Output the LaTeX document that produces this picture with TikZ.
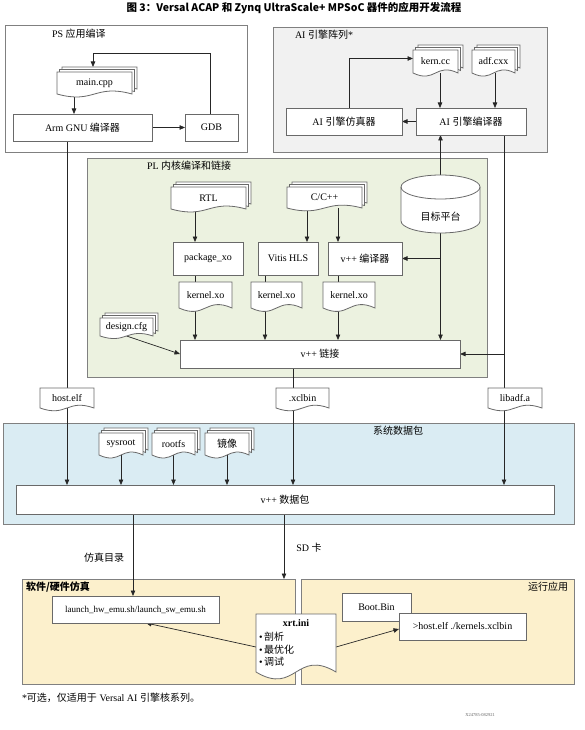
\documentclass[tikz,border=0pt]{standalone}
\usepackage{fontspec}
\setmainfont{Liberation Serif}
\newfontfamily\cjk{Noto Sans CJK SC}
\usetikzlibrary{arrows.meta,calc}
\newcommand\zh[1]{{\cjk #1}}
\definecolor{aigray}{RGB}{241,241,241}
\definecolor{plgreen}{RGB}{236,242,224}
\definecolor{sysblue}{RGB}{218,236,243}
\definecolor{emuyel}{RGB}{252,240,204}
\definecolor{contgray}{RGB}{128,128,128}
\definecolor{boxgray}{RGB}{105,105,105}
\pgfdeclarelayer{cont}
\pgfdeclarelayer{conn}
\pgfsetlayers{cont,conn,main}
\tikzset{
  cont/.style={draw=contgray, line width=0.8pt, inner sep=0pt, outer sep=0pt},
  box/.style={draw=boxgray, fill=white, line width=0.8pt, inner sep=0pt, outer sep=0pt, align=center},
  hid/.style={inner sep=0pt, outer sep=0pt, align=center},
  docline/.style={draw=boxgray, fill=white, line width=0.8pt},
  conline/.style={draw=black!85, line width=0.7pt},
  arr/.style={conline, -{Triangle[length=5.5pt,width=4.5pt]}},
  lbl/.style={inner sep=0pt, outer sep=0pt},
}
\newcommand\rectnode[7][]{\node[#1, minimum width={(#5-#3)*1pt}, minimum height={(#6-#4)*1pt}] (#2) at ({(#3+#5)/2},{(#4+#6)/2}) {#7};}
\newcommand\onedoc[5]{\filldraw[docline] (#1,#2) -- (#3,#2) -- (#3,#4) .. controls ({(#1+#3)/2},{#4-#5}) and ({(#1+#3)/2},{#4+#5}) .. (#1,#4) -- cycle;}
\newcommand\docnode[6]{%
  \pgfmathsetmacro\dk{0.38*(#5-#3)+2}%
  \onedoc{#2}{#3}{#4}{#5}{\dk}%
  \rectnode[hid]{#1}{#2}{#3}{#4}{#5}{#6}}
\newcommand\stacknode[6]{%
  \pgfmathsetmacro\dk{0.38*(#5-#3)+2}%
  \onedoc{#2+5}{#3-5}{#4+5}{#5-5}{\dk}%
  \onedoc{#2+2.5}{#3-2.5}{#4+2.5}{#5-2.5}{\dk}%
  \docnode{#1}{#2}{#3}{#4}{#5}{#6}}
\newcommand\bul{\textbullet\hspace{1.5pt}}
\begin{document}
\begin{tikzpicture}[x=1pt,y=-1pt,font=\fontsize{10}{12}\selectfont]
\useasboundingbox (0,0) rectangle (585,730);

\node[font=\cjk\bfseries\fontsize{10.5}{12}\selectfont] (title) at (294,8) {图 3：Versal ACAP 和 Zynq UltraScale+ MPSoC 器件的应用开发流程};

% containers
\begin{pgfonlayer}{cont}
\fill[white] (0,0) rectangle (585,730);
\rectnode[cont, fill=white]{ps}{5}{25}{247}{152}{}
\rectnode[cont, fill=aigray]{ai}{273}{27}{547}{152}{}
\rectnode[cont, fill=plgreen]{pl}{87}{158}{487}{377}{}
\rectnode[cont, fill=sysblue]{sys}{3}{423}{574}{524}{}
\rectnode[cont, fill=emuyel]{emu}{22}{579}{295}{684}{}
\rectnode[cont, fill=emuyel]{runbox}{301}{579}{574}{684}{}
\end{pgfonlayer}

\node[lbl, anchor=west] (pslbl) at (52,34) {PS \zh{应用编译}};
\node[lbl, anchor=west] (ailbl) at (295,35) {AI \zh{引擎阵列}*};
\node[lbl, anchor=west] (pllbl) at (147,166) {PL \zh{内核编译和链接}};
\node[lbl] (syslbl) at (398,431) {\zh{系统数据包}};
\node[lbl, anchor=west, font=\cjk\bfseries\fontsize{10}{12}\selectfont] (emulbl) at (26,587) {软件/硬件仿真};
\node[lbl, anchor=east] (runlbl) at (568,587) {\zh{运行应用}};

% PS
\stacknode{maincpp}{57}{72}{132}{94}{main.cpp}
\rectnode[box]{arm}{13}{114}{152}{141}{Arm GNU \zh{编译器}}
\rectnode[box]{gdb}{185}{114}{238}{141}{GDB}

% AI
\stacknode{kerncc}{413}{50}{458}{73}{kern.cc}
\stacknode{adfcxx}{472}{50}{515}{73}{adf.cxx}
\rectnode[box]{aisim}{286}{108}{402}{135}{AI \zh{引擎仿真器}}
\rectnode[box]{aicomp}{416}{108}{526}{135}{AI \zh{引擎编译器}}

% PL
\stacknode{rtl}{171}{187}{246}{209}{RTL}
\stacknode{cpp}{287}{187}{362}{208}{C/C++}
\filldraw[docline] (401,187) -- (401,221) arc[start angle=180, end angle=360, x radius=39.5pt, y radius=12pt] -- (480,187) arc[start angle=0, end angle=180, x radius=39.5pt, y radius=12pt] -- cycle;
\draw[docline, fill=none] (401,187) arc[start angle=180, end angle=360, x radius=39.5pt, y radius=12pt];
\rectnode[hid]{tgt}{401}{175}{480}{233}{}
\node[lbl] (tgtlbl) at (440.5,217) {\zh{目标平台}};
\rectnode[box]{pkg}{173}{242}{243}{275}{package\_xo}
\rectnode[box]{hls}{258}{242}{318}{275}{Vitis HLS}
\rectnode[box]{vcomp}{328}{242}{402}{275}{v++ \zh{编译器}}
\docnode{kx1}{179}{282}{232}{308}{kernel.xo}
\docnode{kx2}{251}{282}{302}{308}{kernel.xo}
\docnode{kx3}{323}{282}{375}{308}{kernel.xo}
\stacknode{designcfg}{100}{318}{153}{336}{design.cfg}
\rectnode[box]{link}{180}{340}{460}{368}{v++ \zh{链接}}

% outputs
\docnode{hostelf}{40}{388}{94}{408}{host.elf}
\docnode{xclbin}{276}{388}{329}{408}{.xclbin}
\docnode{libadf}{488}{388}{542}{408}{libadf.a}

% system package
\stacknode{sysroot}{99}{433}{143}{455}{sysroot}
\stacknode{rootfs}{152}{433}{195}{455}{rootfs}
\stacknode{jx}{205}{433}{249}{455}{\zh{镜像}}
\rectnode[box]{pack}{16}{485}{554}{514}{v++ \zh{数据包}}

\node[lbl] (simdir) at (104,558) {\zh{仿真目录}};
\node[lbl] (sdcard) at (309,548) {SD \zh{卡}};

% emulation / run
\rectnode[box]{launch}{52}{596}{219}{623}{\fontsize{9}{11}\selectfont launch\_hw\_emu.sh/launch\_sw\_emu.sh}
\docnode{xrtini}{256}{614}{336}{672}{}
\node[lbl] (xrtt) at (296,623) {\textbf{xrt.ini}};
\node[lbl, anchor=west] (xb1) at (259,637) {\bul\zh{剖析}};
\node[lbl, anchor=west] (xb2) at (259,649.5) {\bul\zh{最优化}};
\node[lbl, anchor=west] (xb3) at (259,662) {\bul\zh{调试}};
\rectnode[box]{boot}{342}{593}{411}{621}{Boot.Bin}
\rectnode[box]{run}{399}{613}{526}{640}{>host.elf ./kernels.xclbin}

\node[lbl, anchor=west] (foot) at (22,698) {*\zh{可选，仅适用于} Versal AI \zh{引擎核系列。}};
\node[lbl, text=black!60, font=\fontsize{4.5}{5}\selectfont] (xid) at (480,715) {X24785-082921};

% connectors
\begin{pgfonlayer}{conn}
\coordinate (c_main) at ([xshift=-20.5pt]maincpp.south);
\draw[arr] (c_main) -- (c_main |- arm.north);
\draw[arr] (arm) -- (gdb);
\draw[arr] ([xshift=-1.5pt]gdb.north) -- ++(0,-61) -| ([xshift=-1.5pt, yshift=5pt]maincpp.north);
\draw[conline] (arm.south -| hostelf.north) -- (hostelf.north);
\draw[arr] (hostelf.south) -- (hostelf.south |- pack.north);

\draw[arr] (aicomp) -- (aisim);
\draw[arr] ([xshift=5pt]aisim.north) |- ([yshift=3pt]kerncc.west);
\coordinate (c_kc) at ([xshift=4.5pt]kerncc.south);
\draw[arr] (c_kc) -- (c_kc |- aicomp.north);
\coordinate (c_adf) at ([xshift=1.5pt]adfcxx.south);
\draw[arr] (c_adf) -- (c_adf |- aicomp.north);
\draw[arr] (tgt.north) -- (tgt.north |- aicomp.south);
\coordinate (rbus) at ([xshift=-11pt]libadf.north);
\draw[conline] (aicomp.south -| rbus) -- (rbus);
\draw[arr] (libadf.south -| rbus) -- (rbus |- pack.north);
\draw[arr] (rbus |- link.east) -- (link.east);

\coordinate (c_rtl) at ([xshift=-13pt]pkg.north);
\draw[arr] (rtl.south -| c_rtl) -- (c_rtl);
\draw[conline] (c_rtl |- pkg.south) -- (c_rtl |- kx1.north);
\draw[arr] (c_rtl |- kx1.south) -- (c_rtl |- link.north);
\coordinate (c_hls) at ([xshift=19pt]hls.north);
\draw[arr] (cpp.south -| c_hls) -- (c_hls);
\coordinate (c_vc) at ([xshift=-27pt]vcomp.north);
\draw[arr] (cpp.south -| c_vc) -- (c_vc);
\coordinate (c_k2) at ([xshift=-23pt]hls.south);
\draw[conline] (c_k2) -- (c_k2 |- kx2.north);
\draw[arr] (c_k2 |- kx2.south) -- (c_k2 |- link.north);
\draw[conline] (c_vc |- vcomp.south) -- (c_vc |- kx3.north);
\draw[arr] (c_vc |- kx3.south) -- (c_vc |- link.north);
\draw[arr] (tgt.south) -- (tgt.south |- link.north);
\draw[arr] (tgt.south |- vcomp.east) -- (vcomp.east);
\draw[arr] (designcfg.south) -- (link.west);

\coordinate (c_x) at ([xshift=-27pt]link.south);
\draw[conline] (c_x) -- (c_x |- xclbin.north);
\draw[arr] (c_x |- xclbin.south) -- (c_x |- pack.north);
\draw[arr] (sysroot.south) -- (sysroot.south |- pack.north);
\draw[arr] (rootfs.south) -- (rootfs.south |- pack.north);
\draw[arr] (jx.south) -- (jx.south |- pack.north);

\coordinate (c_emu) at ([xshift=-2.5pt]launch.north);
\draw[arr] (pack.south -| c_emu) -- (c_emu);
\coordinate (c_sd) at ([xshift=-1pt]pack.south);
\draw[arr] (c_sd) -- (c_sd |- emu.north);
\draw[arr] ([yshift=-4pt]xrtini.west) -- ([xshift=10.5pt]launch.south);
\draw[arr] ([yshift=-4pt]xrtini.east) -- ([yshift=-2.5pt]run.west);
\end{pgfonlayer}
\end{tikzpicture}
\end{document}
